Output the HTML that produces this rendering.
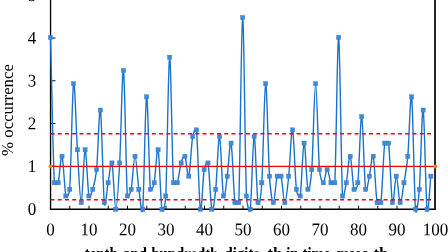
<!DOCTYPE html>
<html><head><meta charset="utf-8"><title>chart</title>
<style>
html,body{margin:0;padding:0;background:#fff;overflow:hidden}
svg{display:block;font-family:"Liberation Serif","Times New Roman",serif;font-size:17.3px;fill:#000}
</style></head><body>
<svg width="448" height="252" viewBox="0 0 448 252">
<rect width="448" height="252" fill="#fff"/>
<g stroke="#000" stroke-width="1.2" fill="none">
<path d="M50.55 0V209.9" stroke-width="1.35"/>
<path d="M49.9 209.15H435.9" stroke-width="1.45"/>
</g>
<path d="M435 0V209.2" stroke="#111" stroke-width="1.8" fill="none" stroke-linecap="round"/>
<g stroke="#111" stroke-width="1" fill="none"><path d="M69.75 209V205.7"/><path d="M89.00 209V205.7"/><path d="M108.25 209V205.7"/><path d="M127.50 209V205.7"/><path d="M146.75 209V205.7"/><path d="M166.00 209V205.7"/><path d="M185.25 209V205.7"/><path d="M204.50 209V205.7"/><path d="M223.75 209V205.7"/><path d="M243.00 209V205.7"/><path d="M262.25 209V205.7"/><path d="M281.50 209V205.7"/><path d="M300.75 209V205.7"/><path d="M320.00 209V205.7"/><path d="M339.25 209V205.7"/><path d="M358.50 209V205.7"/><path d="M377.75 209V205.7"/><path d="M397.00 209V205.7"/><path d="M416.25 209V205.7"/><path d="M50.5 166.25H55.5"/><path d="M50.5 123.50H55.5"/><path d="M50.5 80.75H55.5"/><path d="M50.5 38.00H55.5"/></g>
<g><text transform="translate(50.50,235.3) rotate(0.15) scale(0.98,1.03)" text-anchor="middle">0</text><text transform="translate(89.00,235.3) rotate(0.15) scale(0.98,1.03)" text-anchor="middle">10</text><text transform="translate(127.50,235.3) rotate(0.15) scale(0.98,1.03)" text-anchor="middle">20</text><text transform="translate(166.00,235.3) rotate(0.15) scale(0.98,1.03)" text-anchor="middle">30</text><text transform="translate(204.50,235.3) rotate(0.15) scale(0.98,1.03)" text-anchor="middle">40</text><text transform="translate(243.00,235.3) rotate(0.15) scale(0.98,1.03)" text-anchor="middle">50</text><text transform="translate(281.50,235.3) rotate(0.15) scale(0.98,1.03)" text-anchor="middle">60</text><text transform="translate(320.00,235.3) rotate(0.15) scale(0.98,1.03)" text-anchor="middle">70</text><text transform="translate(358.50,235.3) rotate(0.15) scale(0.98,1.03)" text-anchor="middle">80</text><text transform="translate(397.00,235.3) rotate(0.15) scale(0.98,1.03)" text-anchor="middle">90</text><text transform="translate(435.50,235.3) rotate(0.15) scale(0.98,1.03)" text-anchor="middle">100</text></g>
<g><text transform="translate(36.2,214.85) rotate(0.15) scale(0.98,1.03)" text-anchor="end">0</text><text transform="translate(36.2,172.10) rotate(0.15) scale(0.98,1.03)" text-anchor="end">1</text><text transform="translate(36.2,129.35) rotate(0.15) scale(0.98,1.03)" text-anchor="end">2</text><text transform="translate(36.2,86.60) rotate(0.15) scale(0.98,1.03)" text-anchor="end">3</text><text transform="translate(36.2,43.85) rotate(0.15) scale(0.98,1.03)" text-anchor="end">4</text><text transform="translate(36.2,1.10) rotate(0.15) scale(0.98,1.03)" text-anchor="end">5</text></g>
<text transform="translate(12.6,110) rotate(-90)" text-anchor="middle" font-size="16.8px">% occurrence</text>
<g font-weight="bold" font-size="17.8px" id="ttl"><text transform="translate(84.8,259.3) rotate(0.15) scale(0.83,1)">tenth</text> <text transform="translate(123.2,259.3) rotate(0.15) scale(0.83,1)">and</text> <text transform="translate(151.3,259.3) rotate(0.15) scale(0.83,1)">hundredth</text> <text transform="translate(224.6,259.3) rotate(0.15) scale(0.83,1)">digits</text> <text transform="translate(267.5,259.3) rotate(0.15) scale(0.93,1)">th</text> <text transform="translate(286.2,259.3) rotate(0.15) scale(0.83,1)">in</text> <text transform="translate(302.5,259.3) rotate(0.15) scale(0.83,1)">time</text> <text transform="translate(336.7,259.3) rotate(0.15) scale(0.83,1)">msec</text> <text transform="translate(373.6,259.3) rotate(0.15) scale(0.93,1)">th</text></g>
<path d="M50.50 37.41C51.78 85.86 53.06 158.54 54.34 182.77C54.44 184.69 57.65 184.61 58.18 182.77C59.46 178.37 60.75 154.14 62.03 156.34C63.31 158.54 64.59 190.48 65.87 195.99C66.73 199.71 69.45 193.19 69.71 189.38C70.99 170.66 72.27 90.27 73.55 83.66C74.83 77.05 76.11 129.91 77.39 149.73C78.67 169.56 79.96 202.59 81.24 202.59C82.52 202.59 83.80 150.83 85.08 149.73C86.36 148.63 87.64 189.38 88.92 195.99C89.65 199.74 91.70 193.05 92.76 189.38C94.04 184.97 95.63 179.60 96.60 169.56C97.88 156.34 99.17 104.58 100.45 110.09C101.73 115.59 103.01 190.48 104.29 202.59C105.35 212.63 106.85 189.38 108.13 182.77C109.41 176.16 110.69 158.54 111.97 162.95C113.25 167.35 114.53 209.20 115.81 209.20C117.09 209.20 118.38 186.07 119.66 162.95C120.94 139.82 122.22 64.94 123.50 70.44C124.78 75.95 126.06 176.16 127.34 195.99C127.59 199.80 130.45 193.13 131.18 189.38C132.46 182.77 133.74 156.34 135.02 156.34C136.30 156.34 137.59 180.57 138.87 189.38C140.15 198.19 141.87 219.26 142.71 209.20C143.99 193.78 145.27 100.18 146.55 96.87C147.83 93.57 149.11 175.06 150.39 189.38C150.73 193.18 153.51 186.52 154.23 182.77C155.51 176.16 156.80 145.33 158.08 149.73C159.36 154.14 160.64 201.49 161.92 209.20C163.05 215.99 165.41 202.86 165.76 195.99C167.04 170.66 168.32 59.43 169.60 57.23C170.88 55.03 172.16 161.85 173.44 182.77C173.56 184.69 176.59 184.56 177.29 182.77C178.57 179.47 179.85 167.35 181.13 162.95C182.19 159.28 183.69 154.14 184.97 156.34C186.25 158.54 187.53 179.47 188.81 176.16C190.09 172.86 191.37 144.23 192.65 136.52C193.28 132.75 196.09 126.11 196.50 129.91C197.78 142.02 199.06 202.59 200.34 209.20C201.62 215.81 202.90 177.26 204.18 169.56C204.81 165.79 207.29 159.20 208.02 162.95C209.30 169.56 210.58 204.80 211.86 209.20C213.14 213.60 214.64 199.42 215.71 189.38C216.99 177.26 218.27 135.42 219.55 136.52C220.83 137.62 222.11 189.38 223.39 195.99C224.67 202.59 225.95 184.97 227.23 176.16C228.51 167.35 229.79 138.72 231.07 143.13C232.35 147.53 233.64 192.68 234.92 202.59C235.16 204.50 238.68 204.51 238.76 202.59C240.04 171.76 241.32 18.69 242.60 17.58C243.88 16.48 245.16 164.05 246.44 195.99C246.72 202.86 249.40 216.02 250.28 209.20C251.56 199.29 252.85 137.62 254.13 136.52C255.41 135.42 256.69 194.88 257.97 202.59C259.25 210.30 261.16 192.84 261.81 182.77C263.09 162.95 264.37 84.76 265.65 83.66C266.93 82.56 268.21 156.34 269.49 176.16C270.35 189.49 272.06 202.59 273.34 202.59C274.62 202.59 275.90 180.57 277.18 176.16C277.71 174.32 280.48 174.32 281.02 176.16C282.30 180.57 283.58 202.59 284.86 202.59C286.14 202.59 287.42 188.28 288.70 176.16C289.98 164.05 291.27 127.71 292.55 129.91C293.83 132.11 295.11 178.37 296.39 189.38C296.83 193.17 299.60 199.76 300.23 195.99C301.51 188.28 302.79 144.23 304.07 143.13C305.35 142.02 306.63 184.97 307.91 189.38C309.19 193.78 311.02 179.62 311.76 169.56C313.04 151.94 314.32 83.66 315.60 83.66C316.88 83.66 318.16 153.04 319.44 169.56C319.97 176.42 322.00 182.77 323.28 182.77C324.56 182.77 325.84 169.56 327.12 169.56C328.40 169.56 329.69 180.57 330.97 182.77C331.93 184.43 334.71 184.69 334.81 182.77C336.09 158.54 337.37 35.20 338.65 37.41C339.93 39.61 341.21 171.76 342.49 195.99C342.86 202.86 345.05 189.38 346.33 182.77C347.61 176.16 348.90 155.24 350.18 156.34C351.46 157.44 352.74 184.97 354.02 189.38C355.08 193.05 357.46 186.57 357.86 182.77C359.14 170.66 360.42 115.59 361.70 116.70C362.98 117.80 364.26 179.47 365.54 189.38C366.43 196.20 368.11 181.67 369.39 176.16C370.67 170.66 371.95 151.94 373.23 156.34C374.51 160.75 375.79 194.88 377.07 202.59C377.38 204.49 380.67 204.50 380.91 202.59C382.19 192.68 383.47 153.04 384.75 143.13C385.00 141.22 388.35 141.22 388.60 143.13C389.88 153.04 391.16 197.09 392.44 202.59C393.72 208.10 395.00 176.16 396.28 176.16C397.56 176.16 398.84 201.49 400.12 202.59C401.40 203.69 402.68 190.48 403.96 182.77C405.24 175.06 406.62 169.64 407.81 156.34C409.09 142.02 410.37 88.06 411.65 96.87C412.93 105.68 414.21 193.78 415.49 209.20C416.33 219.26 418.55 199.44 419.33 189.38C420.61 172.86 421.89 106.79 423.17 110.09C424.45 113.39 425.74 198.19 427.02 209.20C428.30 220.21 429.58 187.18 430.86 176.16" fill="none" stroke="#1A73C8" stroke-width="1.4" stroke-linejoin="round"/>
<g fill="#4088D8" stroke="#327BCE" stroke-width="0.4"><rect x="48.40" y="35.31" width="4.2" height="4.2"/><rect x="52.24" y="180.67" width="4.2" height="4.2"/><rect x="56.08" y="180.67" width="4.2" height="4.2"/><rect x="59.93" y="154.24" width="4.2" height="4.2"/><rect x="63.77" y="193.89" width="4.2" height="4.2"/><rect x="67.61" y="187.28" width="4.2" height="4.2"/><rect x="71.45" y="81.56" width="4.2" height="4.2"/><rect x="75.29" y="147.63" width="4.2" height="4.2"/><rect x="79.14" y="200.49" width="4.2" height="4.2"/><rect x="82.98" y="147.63" width="4.2" height="4.2"/><rect x="86.82" y="193.89" width="4.2" height="4.2"/><rect x="90.66" y="187.28" width="4.2" height="4.2"/><rect x="94.50" y="167.46" width="4.2" height="4.2"/><rect x="98.35" y="107.99" width="4.2" height="4.2"/><rect x="102.19" y="200.49" width="4.2" height="4.2"/><rect x="106.03" y="180.67" width="4.2" height="4.2"/><rect x="109.87" y="160.85" width="4.2" height="4.2"/><rect x="113.71" y="207.10" width="4.2" height="4.2"/><rect x="117.56" y="160.85" width="4.2" height="4.2"/><rect x="121.40" y="68.34" width="4.2" height="4.2"/><rect x="125.24" y="193.89" width="4.2" height="4.2"/><rect x="129.08" y="187.28" width="4.2" height="4.2"/><rect x="132.92" y="154.24" width="4.2" height="4.2"/><rect x="136.77" y="187.28" width="4.2" height="4.2"/><rect x="140.61" y="207.10" width="4.2" height="4.2"/><rect x="144.45" y="94.77" width="4.2" height="4.2"/><rect x="148.29" y="187.28" width="4.2" height="4.2"/><rect x="152.13" y="180.67" width="4.2" height="4.2"/><rect x="155.98" y="147.63" width="4.2" height="4.2"/><rect x="159.82" y="207.10" width="4.2" height="4.2"/><rect x="163.66" y="193.89" width="4.2" height="4.2"/><rect x="167.50" y="55.13" width="4.2" height="4.2"/><rect x="171.34" y="180.67" width="4.2" height="4.2"/><rect x="175.19" y="180.67" width="4.2" height="4.2"/><rect x="179.03" y="160.85" width="4.2" height="4.2"/><rect x="182.87" y="154.24" width="4.2" height="4.2"/><rect x="186.71" y="174.06" width="4.2" height="4.2"/><rect x="190.55" y="134.42" width="4.2" height="4.2"/><rect x="194.40" y="127.81" width="4.2" height="4.2"/><rect x="198.24" y="207.10" width="4.2" height="4.2"/><rect x="202.08" y="167.46" width="4.2" height="4.2"/><rect x="205.92" y="160.85" width="4.2" height="4.2"/><rect x="209.76" y="207.10" width="4.2" height="4.2"/><rect x="213.61" y="187.28" width="4.2" height="4.2"/><rect x="217.45" y="134.42" width="4.2" height="4.2"/><rect x="221.29" y="193.89" width="4.2" height="4.2"/><rect x="225.13" y="174.06" width="4.2" height="4.2"/><rect x="228.97" y="141.03" width="4.2" height="4.2"/><rect x="232.82" y="200.49" width="4.2" height="4.2"/><rect x="236.66" y="200.49" width="4.2" height="4.2"/><rect x="240.50" y="15.48" width="4.2" height="4.2"/><rect x="244.34" y="193.89" width="4.2" height="4.2"/><rect x="248.18" y="207.10" width="4.2" height="4.2"/><rect x="252.03" y="134.42" width="4.2" height="4.2"/><rect x="255.87" y="200.49" width="4.2" height="4.2"/><rect x="259.71" y="180.67" width="4.2" height="4.2"/><rect x="263.55" y="81.56" width="4.2" height="4.2"/><rect x="267.39" y="174.06" width="4.2" height="4.2"/><rect x="271.24" y="200.49" width="4.2" height="4.2"/><rect x="275.08" y="174.06" width="4.2" height="4.2"/><rect x="278.92" y="174.06" width="4.2" height="4.2"/><rect x="282.76" y="200.49" width="4.2" height="4.2"/><rect x="286.60" y="174.06" width="4.2" height="4.2"/><rect x="290.45" y="127.81" width="4.2" height="4.2"/><rect x="294.29" y="187.28" width="4.2" height="4.2"/><rect x="298.13" y="193.89" width="4.2" height="4.2"/><rect x="301.97" y="141.03" width="4.2" height="4.2"/><rect x="305.81" y="187.28" width="4.2" height="4.2"/><rect x="309.66" y="167.46" width="4.2" height="4.2"/><rect x="313.50" y="81.56" width="4.2" height="4.2"/><rect x="317.34" y="167.46" width="4.2" height="4.2"/><rect x="321.18" y="180.67" width="4.2" height="4.2"/><rect x="325.02" y="167.46" width="4.2" height="4.2"/><rect x="328.87" y="180.67" width="4.2" height="4.2"/><rect x="332.71" y="180.67" width="4.2" height="4.2"/><rect x="336.55" y="35.31" width="4.2" height="4.2"/><rect x="340.39" y="193.89" width="4.2" height="4.2"/><rect x="344.23" y="180.67" width="4.2" height="4.2"/><rect x="348.08" y="154.24" width="4.2" height="4.2"/><rect x="351.92" y="187.28" width="4.2" height="4.2"/><rect x="355.76" y="180.67" width="4.2" height="4.2"/><rect x="359.60" y="114.60" width="4.2" height="4.2"/><rect x="363.44" y="187.28" width="4.2" height="4.2"/><rect x="367.29" y="174.06" width="4.2" height="4.2"/><rect x="371.13" y="154.24" width="4.2" height="4.2"/><rect x="374.97" y="200.49" width="4.2" height="4.2"/><rect x="378.81" y="200.49" width="4.2" height="4.2"/><rect x="382.65" y="141.03" width="4.2" height="4.2"/><rect x="386.50" y="141.03" width="4.2" height="4.2"/><rect x="390.34" y="200.49" width="4.2" height="4.2"/><rect x="394.18" y="174.06" width="4.2" height="4.2"/><rect x="398.02" y="200.49" width="4.2" height="4.2"/><rect x="401.86" y="180.67" width="4.2" height="4.2"/><rect x="405.71" y="154.24" width="4.2" height="4.2"/><rect x="409.55" y="94.77" width="4.2" height="4.2"/><rect x="413.39" y="207.10" width="4.2" height="4.2"/><rect x="417.23" y="187.28" width="4.2" height="4.2"/><rect x="421.07" y="107.99" width="4.2" height="4.2"/><rect x="424.92" y="207.10" width="4.2" height="4.2"/><rect x="428.76" y="174.06" width="4.2" height="4.2"/></g>
<g stroke="#FF0000" fill="none">
<path d="M50.5 166.4H435" stroke-width="1.3"/>
<path d="M50.5 133.8H431.7" stroke-width="1.5" stroke-dasharray="4 3.24"/>
<path d="M50.5 199.7H431.7" stroke-width="1.5" stroke-dasharray="4 3.24"/>
</g>
<g fill="#F0801A"><circle cx="50.5" cy="166.4" r="2"/><circle cx="435.3" cy="166.4" r="2"/></g>
</svg>
</body></html>
